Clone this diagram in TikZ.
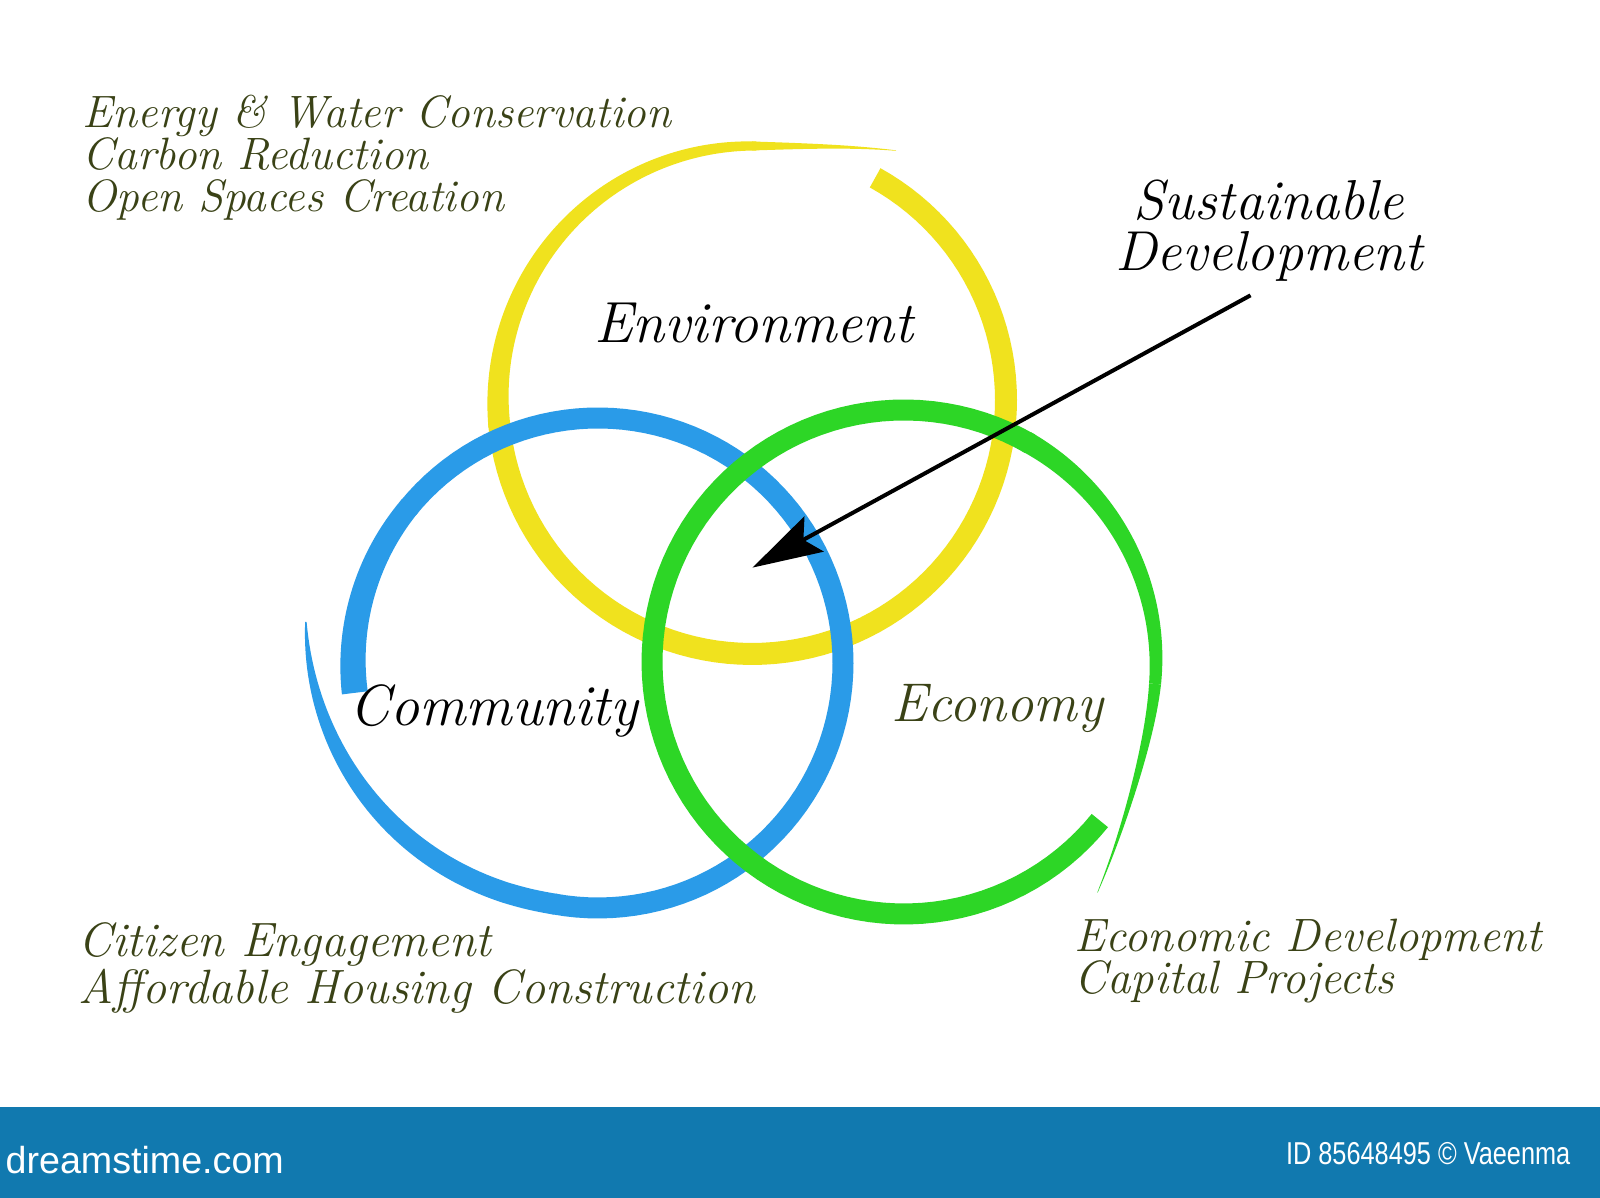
\documentclass[tikz,border=0pt]{standalone}
\usepackage{fontspec}
\usepackage{tikz}
\usetikzlibrary{arrows.meta}
\newfontfamily\barfont[FakeStretch=0.8]{Liberation Sans}
\newfontfamily\brandfont{Liberation Sans}
\definecolor{ringyellow}{RGB}{240,226,30}
\definecolor{ringblue}{RGB}{42,155,232}
\definecolor{ringgreen}{RGB}{45,214,38}
\definecolor{textolive}{RGB}{58,66,22}
\definecolor{barblue}{RGB}{17,121,175}
\pgfdeclarelayer{nodelayer}
\pgfdeclarelayer{edgelayer}
\pgfsetlayers{edgelayer,nodelayer,main}
\tikzstyle{none}=[inner sep=0pt]
\tikzstyle{ringlabel}=[inner sep=0pt, font=\fontsize{16.5}{18}\selectfont\itshape]
\tikzstyle{listtext}=[inner sep=0pt, anchor=west, align=left, text=textolive, font=\fontsize{13.3}{12}\selectfont\itshape]
\tikzstyle{bartext}=[inner sep=0pt, text=white]
\tikzstyle{directed edge}=[-{Stealth[length=0.7cm, width=0.4cm, inset=0.12cm]}, line width=0.04cm]
% brush stroke along a ring: colour, radius, from, to, width at from, width at to
\newcommand{\brusharc}[6]{%
  \fill[#1] plot[domain=#3:#4, samples=90] (\x:{#2+(#5+(#6-#5)*(\x-(#3))/((#4)-(#3)))/2})
    -- plot[domain=#4:#3, samples=90] (\x:{#2-(#5+(#6-#5)*(\x-(#3))/((#4)-(#3)))/2}) -- cycle;}
% end of a stroke drifting off the ring: colour, radius, from, to, end radius, width at from, width at to, drift power, taper power
\newcommand{\brushtail}[9]{%
  \fill[#1] plot[domain=#3:#4, samples=60] (\x:{#2+(#5-#2)*((\x-(#3))/((#4)-(#3)))^#8+(#6+(#7-#6)*((\x-(#3))/((#4)-(#3)))^#9)/2})
    -- plot[domain=#4:#3, samples=60] (\x:{#2+(#5-#2)*((\x-(#3))/((#4)-(#3)))^#8-(#6+(#7-#6)*((\x-(#3))/((#4)-(#3)))^#9)/2}) -- cycle;}

\begin{document}
\begin{tikzpicture}[x=0.01cm, y=0.01cm]
	\useasboundingbox (0,0) rectangle (1600,1198);
	\begin{pgfonlayer}{edgelayer}
		\fill [white] (0,0) rectangle (1600,1198);
		\fill [barblue] (0,0) rectangle (1600,91);
		% environment
		\begin{scope}[shift={(752,798)}]
			\brusharc{ringyellow}{254}{-175}{61}{22}{22}
			\brusharc{ringyellow}{254}{-271}{-174}{9}{22}
			\brushtail{ringyellow}{254}{90}{60}{288}{9}{0.5}{2}{1}
		\end{scope}
		% community
		\begin{scope}[shift={(598,535)}]
			\brusharc{ringblue}{245}{259.6}{501}{21}{21}
			\brusharc{ringblue}{245}{500}{547}{21}{26}
			\brushtail{ringblue}{245}{260}{172}{295}{21}{1.5}{1.5}{3}
		\end{scope}
		% economy
		\begin{scope}[shift={(904,536)}]
			\brusharc{ringgreen}{252}{-300}{-39}{21}{21}
			\brusharc{ringgreen}{252}{-5}{61}{12}{21}
			\brushtail{ringgreen}{252}{-5}{-50}{301}{12}{0.5}{2.5}{1}
		\end{scope}
	\end{pgfonlayer}
	\begin{pgfonlayer}{nodelayer}
		\node [style=listtext, font=\fontsize{12.9}{12}\selectfont\itshape] (0) at (82, 1040) {Energy \& Water Conservation\\Carbon Reduction\\Open Spaces Creation};
		\node [style=ringlabel] (1) at (754, 875) {Environment};
		\node [style=ringlabel] (2) at (494, 487) {Community};
		\node [style=ringlabel, text=textolive, font=\fontsize{15.5}{18}\selectfont\itshape] (3) at (997, 489) {Economy};
		\node [style=ringlabel, align=center, font=\fontsize{16}{14.5}\selectfont\itshape] (4) at (1269, 967) {Sustainable\\Development};
		\node [style=listtext, font=\fontsize{13.7}{12}\selectfont\itshape] (5) at (78, 230) {Citizen Engagement\\Affordable Housing Construction};
		\node [style=listtext] (6) at (1074, 237) {Economic Development\\Capital Projects};
		\node [style=none] (7) at (1253, 904) {};
		\node [style=none] (8) at (750, 629) {};
		\node [style=bartext, anchor=west, font=\brandfont\fontsize{10.7}{12}\selectfont] (9) at (5, 38) {dreamstime.com};
		\node [style=bartext, anchor=east, font=\barfont\fontsize{9}{12}\selectfont] (10) at (1571, 44) {ID 85648495 © Vaeenma};
	\end{pgfonlayer}
	\begin{pgfonlayer}{edgelayer}
		\draw [style=directed edge] (7) to (8);
	\end{pgfonlayer}
\end{tikzpicture}
\end{document}
